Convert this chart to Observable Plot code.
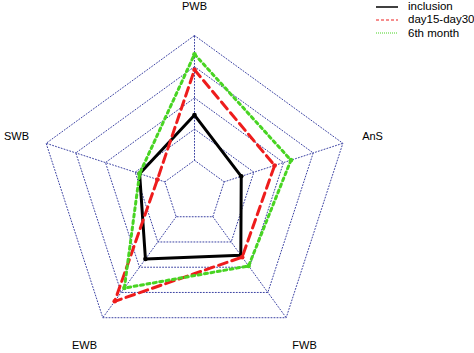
<!DOCTYPE html>
<html>
<head>
<meta charset="utf-8">
<script src="https://cdn.jsdelivr.net/npm/d3@7"></script>
<script src="https://cdn.jsdelivr.net/npm/@observablehq/plot@0.6"></script>
<style>
  html, body { margin: 0; padding: 0; background: #fff; }
  #wrap { position: relative; width: 474px; height: 353px; overflow: hidden; font-family: "Liberation Sans", Arial, sans-serif; }
  #legend { position: absolute; left: 376px; top: 0px; font-size: 11.5px; line-height: 13px; color: #000; white-space: nowrap; }
  #legend .row { display: flex; align-items: center; height: 13.3px; }
  #legend svg { margin-right: 10px; }
</style>
</head>
<body>
<div id="wrap">
  <div id="chart"></div>
  <div id="legend"></div>
</div>
<script>
// Axes (clockwise from top)
const axes = ["PWB", "AnS", "FWB", "EWB", "SWB"];
// Values expressed as fraction of outer ring radius (inner ring = 0.2 = minimum)
const inclusion = [0.49, 0.315, 0.505, 0.535, 0.37];
const day15_30  = [0.78, 0.54, 0.52, 0.87, 0.25];
const month6    = [0.88, 0.65, 0.59, 0.765, 0.37];
const seriesNames = ["inclusion", "day15-day30", "6th month"];
const seriesColors = ["#000000", "#ee1c1c", "#48d422"];
const seriesDash = [null, "9,5", "3,3.5"];
const gridLevels = [0.2, 0.4, 0.6, 0.8, 1.0];

const n = axes.length;
const angle = i => Math.PI / 2 - i * 2 * Math.PI / n;
const px = (i, r) => r * Math.cos(angle(i));
const py = (i, r) => r * Math.sin(angle(i));

const seriesVals = [inclusion, day15_30, month6];
const pts = [];
seriesVals.forEach((vals, s) => vals.forEach((v, i) => pts.push({series: seriesNames[s], axis: axes[i], x: px(i, v), y: py(i, v)})));

const grid = [];
gridLevels.forEach(l => axes.forEach((a, i) => grid.push({level: l, x: px(i, l), y: py(i, l)})));
const spokes = [];
axes.forEach((a, i) => { spokes.push({axis: a, x: px(i, 0.2), y: py(i, 0.2)}); spokes.push({axis: a, x: px(i, 1), y: py(i, 1)}); });
const labels = axes.map((a, i) => ({axis: a, x: px(i, 1.2), y: py(i, 1.2)}));

const W = 474, H = 353, cx = 194, cy = 191, R = 156;
const gridColor = "#3b42a3";

const marks = [
  Plot.line(grid, {x: "x", y: "y", z: "level", curve: "linear-closed", stroke: gridColor, strokeWidth: 1, strokeDasharray: "1,2"}),
  Plot.line(spokes, {x: "x", y: "y", z: "axis", stroke: gridColor, strokeWidth: 1, strokeDasharray: "1,2"}),
];
seriesNames.forEach((s, k) => {
  const d = pts.filter(p => p.series === s);
  marks.push(Plot.line(d, {x: "x", y: "y", curve: "linear-closed", stroke: seriesColors[k], strokeWidth: 3, strokeDasharray: seriesDash[k], strokeLinejoin: "miter"}));
  marks.push(Plot.dot(d, {x: "x", y: "y", r: 2.3, fill: seriesColors[k], stroke: "none"}));
});
marks.push(Plot.text(labels, {x: "x", y: "y", dy: 2.5, text: "axis", fontSize: 11, fill: "#000"}));

const chart = Plot.plot({
  width: W, height: H,
  marginTop: 0, marginRight: 0, marginBottom: 0, marginLeft: 0,
  style: {fontFamily: "'Liberation Sans', Arial, sans-serif", background: "#fff"},
  x: {domain: [-cx / R, (W - cx) / R], range: [0, W], axis: null},
  y: {domain: [-(H - cy) / R, cy / R], range: [H, 0], axis: null},
  marks
});
document.getElementById("chart").appendChild(chart);

// Legend
const leg = document.getElementById("legend");
seriesNames.forEach((s, k) => {
  const row = document.createElement("div");
  row.className = "row";
  const dash = k === 0 ? "" : (k === 1 ? "3,2" : "1,1");
  row.innerHTML = `<svg width="22" height="6"><line x1="0" y1="3" x2="22" y2="3" stroke="${seriesColors[k]}" stroke-width="${k === 0 ? 1.5 : 1}" ${dash ? `stroke-dasharray="${dash}"` : ""}/></svg><span>${s}</span>`;
  leg.appendChild(row);
});
</script>
</body>
</html>
